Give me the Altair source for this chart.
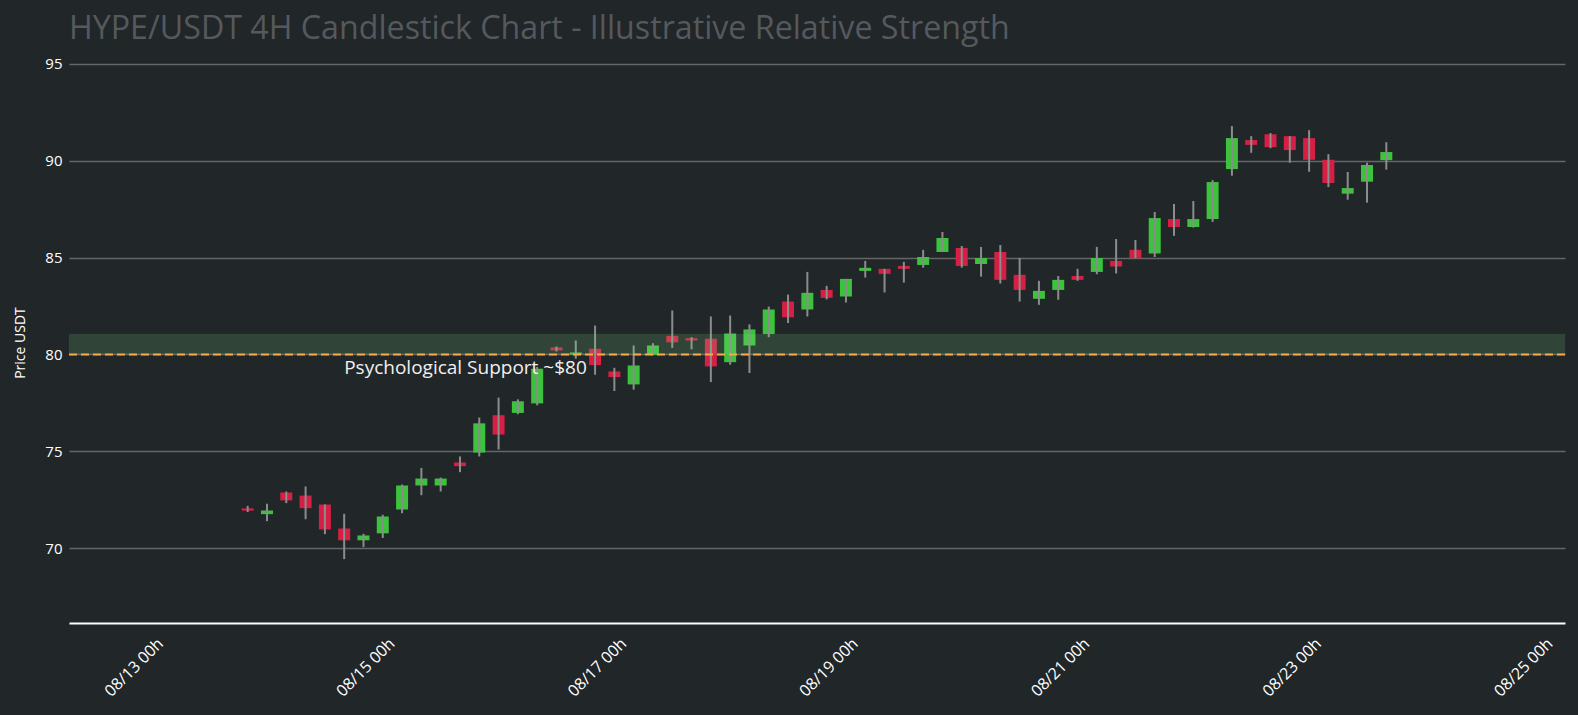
import altair as alt
import pandas as pd
import jinja2

# ---- data ----
start_time = "2025-08-13 16:00"
n_candles = 60
opens = [72.05, 71.75, 72.87, 72.71, 72.25, 71.01, 70.40, 70.76, 71.99, 73.23,
         73.23, 74.42, 74.93, 76.86, 76.98, 77.47, 80.36, 80.00, 80.29, 79.12,
         78.45, 79.98, 80.96, 80.84, 80.81, 79.60, 80.46, 81.05, 82.73, 82.32,
         83.33, 82.99, 84.31, 84.42, 84.57, 84.62, 85.29, 85.50, 84.67, 85.29,
         84.11, 82.87, 83.33, 84.05, 84.26, 84.83, 85.40, 85.21, 86.99, 86.58,
         86.99, 89.57, 91.07, 91.37, 91.27, 91.17, 90.05, 88.30, 88.92, 90.03]
highs = [72.18, 72.29, 72.92, 73.18, 72.25, 71.77, 70.74, 71.72, 73.28, 74.14,
         73.64, 74.73, 76.74, 77.77, 77.68, 79.35, 80.41, 80.72, 81.49, 79.31,
         80.46, 80.58, 82.27, 80.89, 81.96, 82.01, 81.55, 82.47, 83.09, 84.26,
         83.54, 83.90, 84.83, 84.42, 84.78, 85.40, 86.32, 85.60, 85.55, 85.65,
         84.98, 83.80, 84.05, 84.42, 85.55, 85.96, 85.91, 87.35, 87.77, 87.92,
         89.00, 91.79, 91.27, 91.43, 91.27, 91.58, 90.34, 89.42, 89.90, 90.96]
lows = [71.86, 71.39, 72.32, 71.49, 70.72, 69.43, 70.05, 70.52, 71.80, 72.73,
        72.92, 73.92, 74.73, 75.09, 76.91, 77.37, 80.15, 79.78, 78.95, 78.11,
        78.18, 79.95, 80.34, 80.26, 78.57, 79.47, 79.04, 80.89, 81.62, 81.96,
        82.84, 82.68, 83.97, 83.20, 83.71, 84.48, 85.29, 84.48, 84.02, 83.66,
        82.73, 82.56, 82.82, 83.80, 84.14, 84.18, 84.97, 85.03, 86.12, 86.55,
        86.84, 89.23, 90.41, 90.65, 89.90, 89.43, 88.64, 87.99, 87.84, 89.54]
closes = [71.93, 71.94, 72.46, 72.06, 70.96, 70.40, 70.65, 71.63, 73.23, 73.59,
          73.59, 74.23, 76.44, 75.86, 77.58, 79.26, 80.21, 80.10, 79.45, 78.83,
          79.43, 80.46, 80.62, 80.72, 79.38, 81.08, 81.29, 82.32, 81.92, 83.18,
          82.92, 83.90, 84.47, 84.16, 84.42, 85.03, 86.01, 84.57, 84.98, 83.85,
          83.33, 83.28, 83.85, 83.85, 84.98, 84.54, 84.97, 87.04, 86.58, 86.99,
          88.90, 91.17, 90.82, 90.70, 90.55, 90.05, 88.85, 88.59, 89.78, 90.45]

support_level = 80.0
zone_top = 81.05
annotation_text = "Psychological Support ~$80"
title_text = "HYPE/USDT 4H Candlestick Chart - Illustrative Relative Strength"
tick_days = [13, 15, 17, 19, 21, 23, 25]

times = pd.date_range(start_time, periods=n_candles, freq="4h").strftime("%Y-%m-%dT%H:%M:%S").tolist()
df = pd.DataFrame({"time": times, "open": opens, "high": highs, "low": lows, "close": closes})
df["dir"] = ["up" if c >= o else "down" for o, c in zip(opens, closes)]

BG = "#212629"
GREEN = "#3cc23c"
RED = "#d61f45"

x_scale = alt.Scale(domain=[alt.DateTime(year=2025, month=8, date=12, hours=4),
                            alt.DateTime(year=2025, month=8, date=25, hours=0)])
y_scale = alt.Scale(domain=[66.13, 95.1], nice=False, zero=False)

x_axis = alt.Axis(values=[alt.DateTime(year=2025, month=8, date=d, hours=0) for d in tick_days],
                  format="%m/%d %Hh", labelAngle=-45, grid=False, ticks=False,
                  domain=True, domainColor="#ffffff", domainWidth=2,
                  labelColor="#ffffff", labelFont="Open Sans", labelFontSize=16,
                  labelPadding=12, labelOffset=-16)
y_axis = alt.Axis(values=[70, 75, 80, 85, 90, 95], grid=True, gridColor="#666666",
                  gridWidth=1.5, ticks=False, domain=False, labelColor="#ffffff",
                  labelFont="Open Sans", labelFontSize=15, labelPadding=7,
                  title="Price USDT", titleColor="#ffffff", titleFont="Open Sans",
                  titleFontSize=14, titleFontWeight="normal", titleX=-49,
                  titleBaseline="middle")

base = alt.Chart(df)

bodies = base.mark_bar(size=12).encode(
    x=alt.X("time:T", scale=x_scale, axis=x_axis, title=None),
    y=alt.Y("open:Q", scale=y_scale, axis=y_axis),
    y2="close:Q",
    color=alt.Color("dir:N", scale=alt.Scale(domain=["up", "down"], range=[GREEN, RED]), legend=None),
)

wicks = base.mark_rule(color="#8c8c8c", strokeWidth=2).encode(
    x="time:T",
    y="low:Q",
    y2="high:Q",
)

zone = alt.Chart(pd.DataFrame({"y": [support_level], "y2": [zone_top]})).mark_rect(
    color="lightgreen", opacity=0.15, stroke="lightgreen", strokeOpacity=0.25, strokeWidth=1
).encode(y="y:Q", y2="y2:Q")

support = alt.Chart(pd.DataFrame({"y": [support_level]})).mark_rule(
    color="#f5a947", strokeWidth=2, strokeDash=[8, 4]
).encode(y="y:Q")

label = alt.Chart(pd.DataFrame({"t": ["2025-08-14T12:00:00"], "y": [support_level], "txt": [annotation_text]})).mark_text(
    align="left", baseline="middle", dy=14, color="#f0f0f0", font="Open Sans", fontSize=19
).encode(x="t:T", y="y:Q", text="txt:N")

chart = alt.layer(bodies, wicks, zone, support, label).properties(
    width=1496, height=561,
    title=alt.TitleParams(title_text, anchor="start", frame="group", color="#55595d",
                          font="Open Sans", fontSize=32.2, fontWeight="normal", offset=11),
    background=BG,
    padding={"left": 69, "top": 62, "right": 13, "bottom": 82},
    autosize=alt.AutoSizeParams(type="none"),
).configure_view(stroke=None)

PAGE = jinja2.Template("""<!DOCTYPE html>
<html>
<head>
  <style>
    html, body { background: #212629; margin: 0; padding: 0; overflow: hidden; }
    #{{ output_div }}.vega-embed { width: 100%; display: flex; }
    #{{ output_div }}.vega-embed details,
    #{{ output_div }}.vega-embed details summary { position: relative; }
  </style>
  <script type="text/javascript" src="{{ base_url }}/vega@{{ vega_version }}"></script>
  <script type="text/javascript" src="{{ base_url }}/vega-lite@{{ vegalite_version }}"></script>
  <script type="text/javascript" src="{{ base_url }}/vega-embed@{{ vegaembed_version }}"></script>
</head>
<body>
  <div id="{{ output_div }}"></div>
  <script>
    (function(vegaEmbed) {
      var spec = {{ spec }};
      var embedOpt = {{ embed_options }};
      const el = document.getElementById('{{ output_div }}');
      vegaEmbed("#{{ output_div }}", spec, embedOpt).catch(function(error) {
        el.innerHTML = '<pre>' + error + '</pre>';
      });
    })(vegaEmbed);
  </script>
</body>
</html>""")

try:
    chart.save("out.html", embed_options={"renderer": "svg", "actions": False}, template=PAGE)
except TypeError:
    chart.save("out.html", embed_options={"renderer": "svg", "actions": False})
